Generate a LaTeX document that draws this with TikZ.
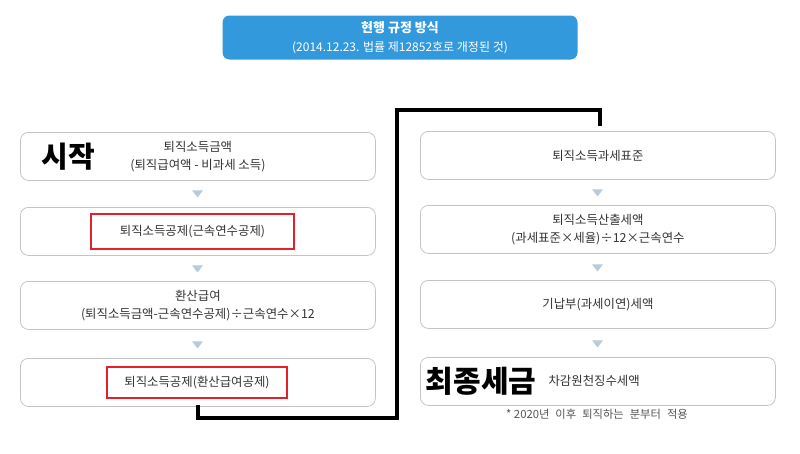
\documentclass[tikz,border=0pt]{standalone}
\usepackage{fontspec}
\setmainfont{Noto Sans CJK KR}
\usetikzlibrary{calc,shapes.geometric}
\definecolor{topblue}{HTML}{3399DD}
\definecolor{boxline}{HTML}{C4C4C4}
\definecolor{txt}{HTML}{333333}
\definecolor{notegray}{HTML}{555555}
\definecolor{tri}{HTML}{B9CAD8}
\definecolor{redb}{HTML}{E3202B}
\tikzset{
  x=1pt, y=-1pt,
  stepbox/.style={draw=boxline, line width=0.8pt, rounded corners=8pt, minimum width=355pt, minimum height=48pt, inner sep=0pt, anchor=north west, text=txt, font=\fontsize{12.4}{18}\selectfont, align=center},
  redbox/.style={draw=redb, line width=2.6pt, inner sep=0pt, text=txt, font=\fontsize{12.4}{16}\selectfont},
  tribox/.style={fill=tri, isosceles triangle, shape border rotate=-90, isosceles triangle apex angle=75, inner sep=0pt, minimum width=11pt, minimum height=7pt},
  bigtxt/.style={text=black},
  link/.style={line width=3.8pt, line cap=rect, line join=miter}
}
\newcommand{\gap}{\hspace{6pt}}
\begin{document}
\begin{tikzpicture}
\useasboundingbox (0,0) rectangle (800,453);
% top header
\node[fill=topblue, rounded corners=7pt, minimum width=355pt, minimum height=44pt, inner sep=0pt, text=white, align=center, font=\fontsize{12}{19}\selectfont] (head) at (400,37.5) {{\fontsize{13}{19}\selectfont\textbf{현행 규정 방식}}\\(2014.12.23. 법률 제12852호로 개정된 것)};
% left column
\node[stepbox] (L1) at (20,132) {퇴직소득금액\\(퇴직급여액 - 비과세 소득)};
\node[bigtxt, font=\fontsize{29}{32}\selectfont\bfseries] (start) at (68,157) {시작};
\node[stepbox] (L2) at (20,207) {};
\node[redbox, minimum width=203pt, minimum height=35pt] (R2red) at (192.5,231.5) {퇴직소득공제(근속연수공제)};
\node[stepbox] (L3) at (20,281) {환산급여\\(퇴직소득금액-근속연수공제)÷근속연수×12};
\node[stepbox] (L4) at (20,358) {};
\node[redbox, minimum width=180pt, minimum height=31pt] (R4red) at (197,382.5) {퇴직소득공제(환산급여공제)};
\node[tribox] (t1) at (197.5,193) {};
\node[tribox] (t2) at (197.5,268) {};
\node[tribox] (t3) at (197.5,344) {};
% right column
\node[stepbox] (R1) at (420,131) {퇴직소득과세표준};
\node[stepbox] (R2) at (420,205) {퇴직소득산출세액\\(과세표준×세율)÷12×근속연수};
\node[stepbox] (R3) at (420,280) {기납부(과세이연)세액};
\node[stepbox] (R4) at (420,357) {};
\node[bigtxt, font=\fontsize{30}{33}\selectfont\bfseries] (final) at (481,381) {최종세금};
\node[text=txt, font=\fontsize{12.4}{15}\selectfont, anchor=west] (finaltxt) at (545,381) {차감원천징수세액};
\node[tribox] (u1) at (597.5,192) {};
\node[tribox] (u2) at (597.5,267) {};
\node[tribox] (u3) at (597.5,343) {};
\node[text=notegray, font=\fontsize{11.3}{13}\selectfont] (note) at (597,414) {* 2020년\gap 이후\gap 퇴직하는\gap 분부터\gap 적용};
% connector
\coordinate (ja) at (397,418);
\coordinate (jb) at (600,110);
\coordinate (je) at (600,124);
\draw[link] (L4.south) |- (ja) |- (jb) -- (je);
\end{tikzpicture}
\end{document}
